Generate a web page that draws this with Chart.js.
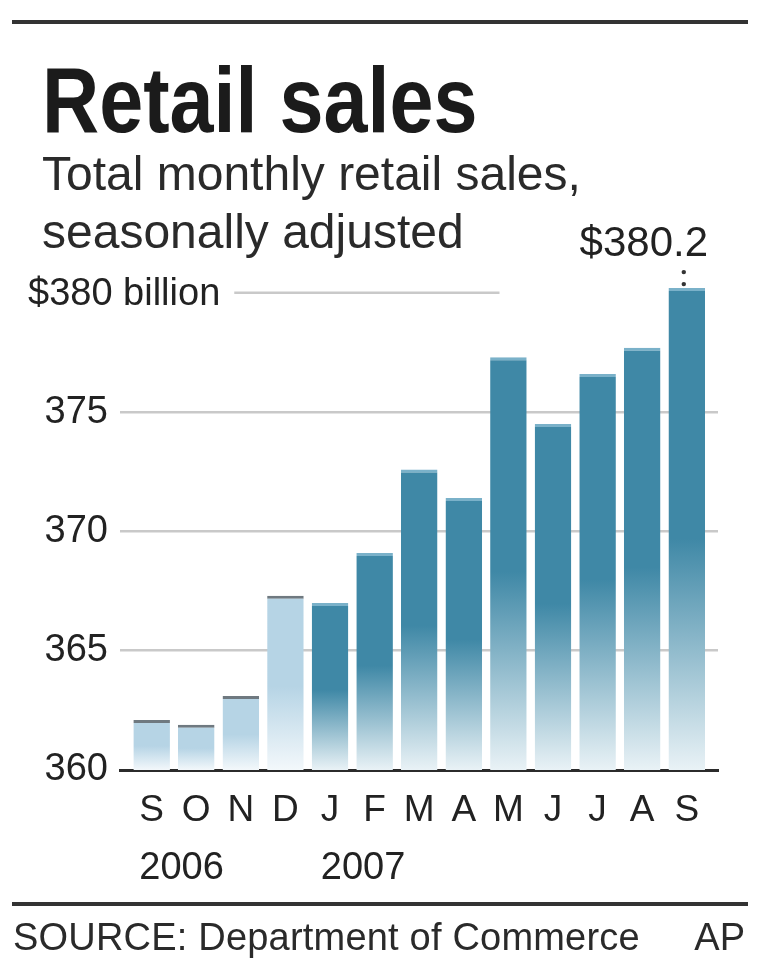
<!DOCTYPE html>
<html>
<head>
<meta charset="utf-8">
<script src="https://cdn.jsdelivr.net/npm/chart.js@4.4.1/dist/chart.umd.min.js"></script>
<style>
  html, body { margin: 0; padding: 0; background: #fff; }
  body {
    width: 760px; height: 976px; position: relative; overflow: hidden;
    font-family: "Liberation Sans", Arial, Helvetica, sans-serif; color: #222;
  }
  canvas { position: absolute; left: 0; top: 0; }
  .rule { position: absolute; left: 12px; width: 736px; height: 4px; background: #333; }
  #title {
    position: absolute; left: 42px; top: 54px; font-size: 92px; line-height: 92px;
    font-weight: bold; color: #1b1b1b; white-space: nowrap;
    transform: scaleX(0.86); transform-origin: left top;
  }
  #subtitle {
    position: absolute; left: 42px; top: 145px; font-size: 48px; line-height: 58px;
    color: #2a2a2a; white-space: nowrap;
  }
  #source, #credit {
    position: absolute; top: 918px; font-size: 38px; line-height: 38px;
    color: #2a2a2a; white-space: nowrap;
  }
  #source { left: 13px; letter-spacing: 0.2px; }
  #credit { right: 15px; }
</style>
</head>
<body>
<canvas id="chart" width="760" height="976"></canvas>
<div class="rule" style="top:20px"></div>
<div id="title">Retail sales</div>
<div id="subtitle">Total monthly retail sales,<br>seasonally adjusted</div>
<div class="rule" style="top:902px"></div>
<div id="source">SOURCE: Department of Commerce</div>
<div id="credit">AP</div>

<script>
// monthly retail sales, billions of dollars, Sep 2006 - Sep 2007
const months = ['S', 'O', 'N', 'D', 'J', 'F', 'M', 'A', 'M', 'J', 'J', 'A', 'S'];
const sales = [362.1, 361.9, 363.1, 367.3, 367.0, 369.1, 372.6, 371.4, 377.3, 374.5, 376.6, 377.7, 380.2];
const years = ['2006', '2007'];
const yearStarts = [0, 4];
const yTicks = [360, 365, 370, 375, 380];

const FONT = '"Liberation Sans", Arial, Helvetica, sans-serif';
Chart.defaults.font.family = FONT;

const LIGHT = '#b6d4e5';
const DARK = '#3f88a6';

function is2006(i) {
    return i < yearStarts[1];
}

function barFill(c) {
    const chart = c.chart;
    const y = chart.scales.y;
    const i = c.dataIndex;
    if (i === undefined || !chart.chartArea || !y) return LIGHT;
    const top = y.getPixelForValue(sales[i]);
    const bottom = y.getPixelForValue(y.min);
    if (!isFinite(top) || !isFinite(bottom)) return is2006(i) ? LIGHT : DARK;
    const g = chart.ctx.createLinearGradient(0, top, 0, bottom);
    const base = is2006(i) ? LIGHT : DARK;
    g.addColorStop(0, base);
    g.addColorStop(0.52, base);
    g.addColorStop(1, is2006(i) ? '#f3f8fb' : '#e9f2f6');
    return g;
}

const extras = {
    id: 'extras',
    beforeDatasetsDraw(chart) {
        // short guide line next to the "$380 billion" label
        const {ctx, scales: {x, y}} = chart;
        const y380 = y.getPixelForValue(yTicks[yTicks.length - 1]);
        ctx.save();
        ctx.font = '38px ' + FONT;
        const w = ctx.measureText('$380 billion').width;
        ctx.strokeStyle = '#c9c9c9';
        ctx.lineWidth = 2.5;
        ctx.beginPath();
        ctx.moveTo(chart.chartArea.left - 92 + w + 14, y380);
        ctx.lineTo(x.getPixelForValue(7.8), y380);
        ctx.stroke();
        ctx.restore();
    },
    afterDraw(chart) {
        const {ctx, scales: {x, y}} = chart;
        ctx.save();
        ctx.fillStyle = '#222';

        // top tick label
        ctx.font = '38px ' + FONT;
        ctx.textAlign = 'left';
        ctx.textBaseline = 'middle';
        ctx.fillText('$380 billion', chart.chartArea.left - 92, y.getPixelForValue(380) + 2);

        // year labels, aligned to the first month letter of each year
        ctx.textBaseline = 'alphabetic';
        yearStarts.forEach((idx, k) => {
            ctx.font = '37px ' + FONT;
            const mw = ctx.measureText(months[idx]).width;
            const left = x.getPixelForValue(idx) - mw / 2;
            ctx.font = '38px ' + FONT;
            ctx.fillText(years[k], left, chart.chartArea.bottom + 109);
        });

        // latest value callout
        const last = sales.length - 1;
        const bar = chart.getDatasetMeta(0).data[last];
        ctx.font = '42px ' + FONT;
        ctx.textAlign = 'right';
        ctx.fillText('$' + sales[last].toFixed(1), bar.x + bar.width / 2 + 3, bar.y - 32);
        ctx.fillStyle = '#333';
        [4, 16].forEach(d => {
            ctx.beginPath();
            ctx.arc(bar.x - 3, bar.y - d, 2.2, 0, Math.PI * 2);
            ctx.fill();
        });
        ctx.restore();
    }
};

new Chart(document.getElementById('chart'), {
    type: 'bar',
    data: {
        datasets: [{
            data: sales.map((v, i) => ({x: i, y: v})),
            backgroundColor: barFill,
            borderColor: c => is2006(c.dataIndex) ? '#6f7980' : '#7ab1c9',
            borderWidth: {top: 3, left: 0, right: 0, bottom: 0},
            barPercentage: 0.82,
            categoryPercentage: 1
        }]
    },
    options: {
        responsive: false,
        animation: false,
        devicePixelRatio: 1,
        layout: {padding: {top: 269, right: 42, left: 0, bottom: 0}},
        plugins: {legend: {display: false}, tooltip: {enabled: false}},
        scales: {
            x: {
                type: 'linear',
                min: -0.71,
                max: 12.7,
                offset: false,
                grid: {display: false, drawTicks: false},
                border: {display: true, color: '#2b2b2b', width: 3},
                ticks: {
                    stepSize: 1,
                    includeBounds: false,
                    autoSkip: false,
                    maxRotation: 0,
                    padding: 19,
                    color: '#222',
                    font: {size: 37},
                    callback: v => months[v] ?? ''
                },
                afterFit: s => { s.height = 206; }
            },
            y: {
                min: 360,
                max: 381,
                grid: {
                    color: c => (c.tick && c.tick.value === 380) ? 'rgba(0,0,0,0)' : '#c9c9c9',
                    lineWidth: 2.5,
                    drawTicks: false
                },
                border: {display: false},
                ticks: {
                    padding: 12,
                    color: '#222',
                    font: {size: 38},
                    callback: v => v === 380 ? '' : String(v)
                },
                afterBuildTicks: s => { s.ticks = yTicks.map(v => ({value: v})); },
                afterFit: s => { s.width = 120; }
            }
        }
    },
    plugins: [extras]
});
</script>
</body>
</html>
